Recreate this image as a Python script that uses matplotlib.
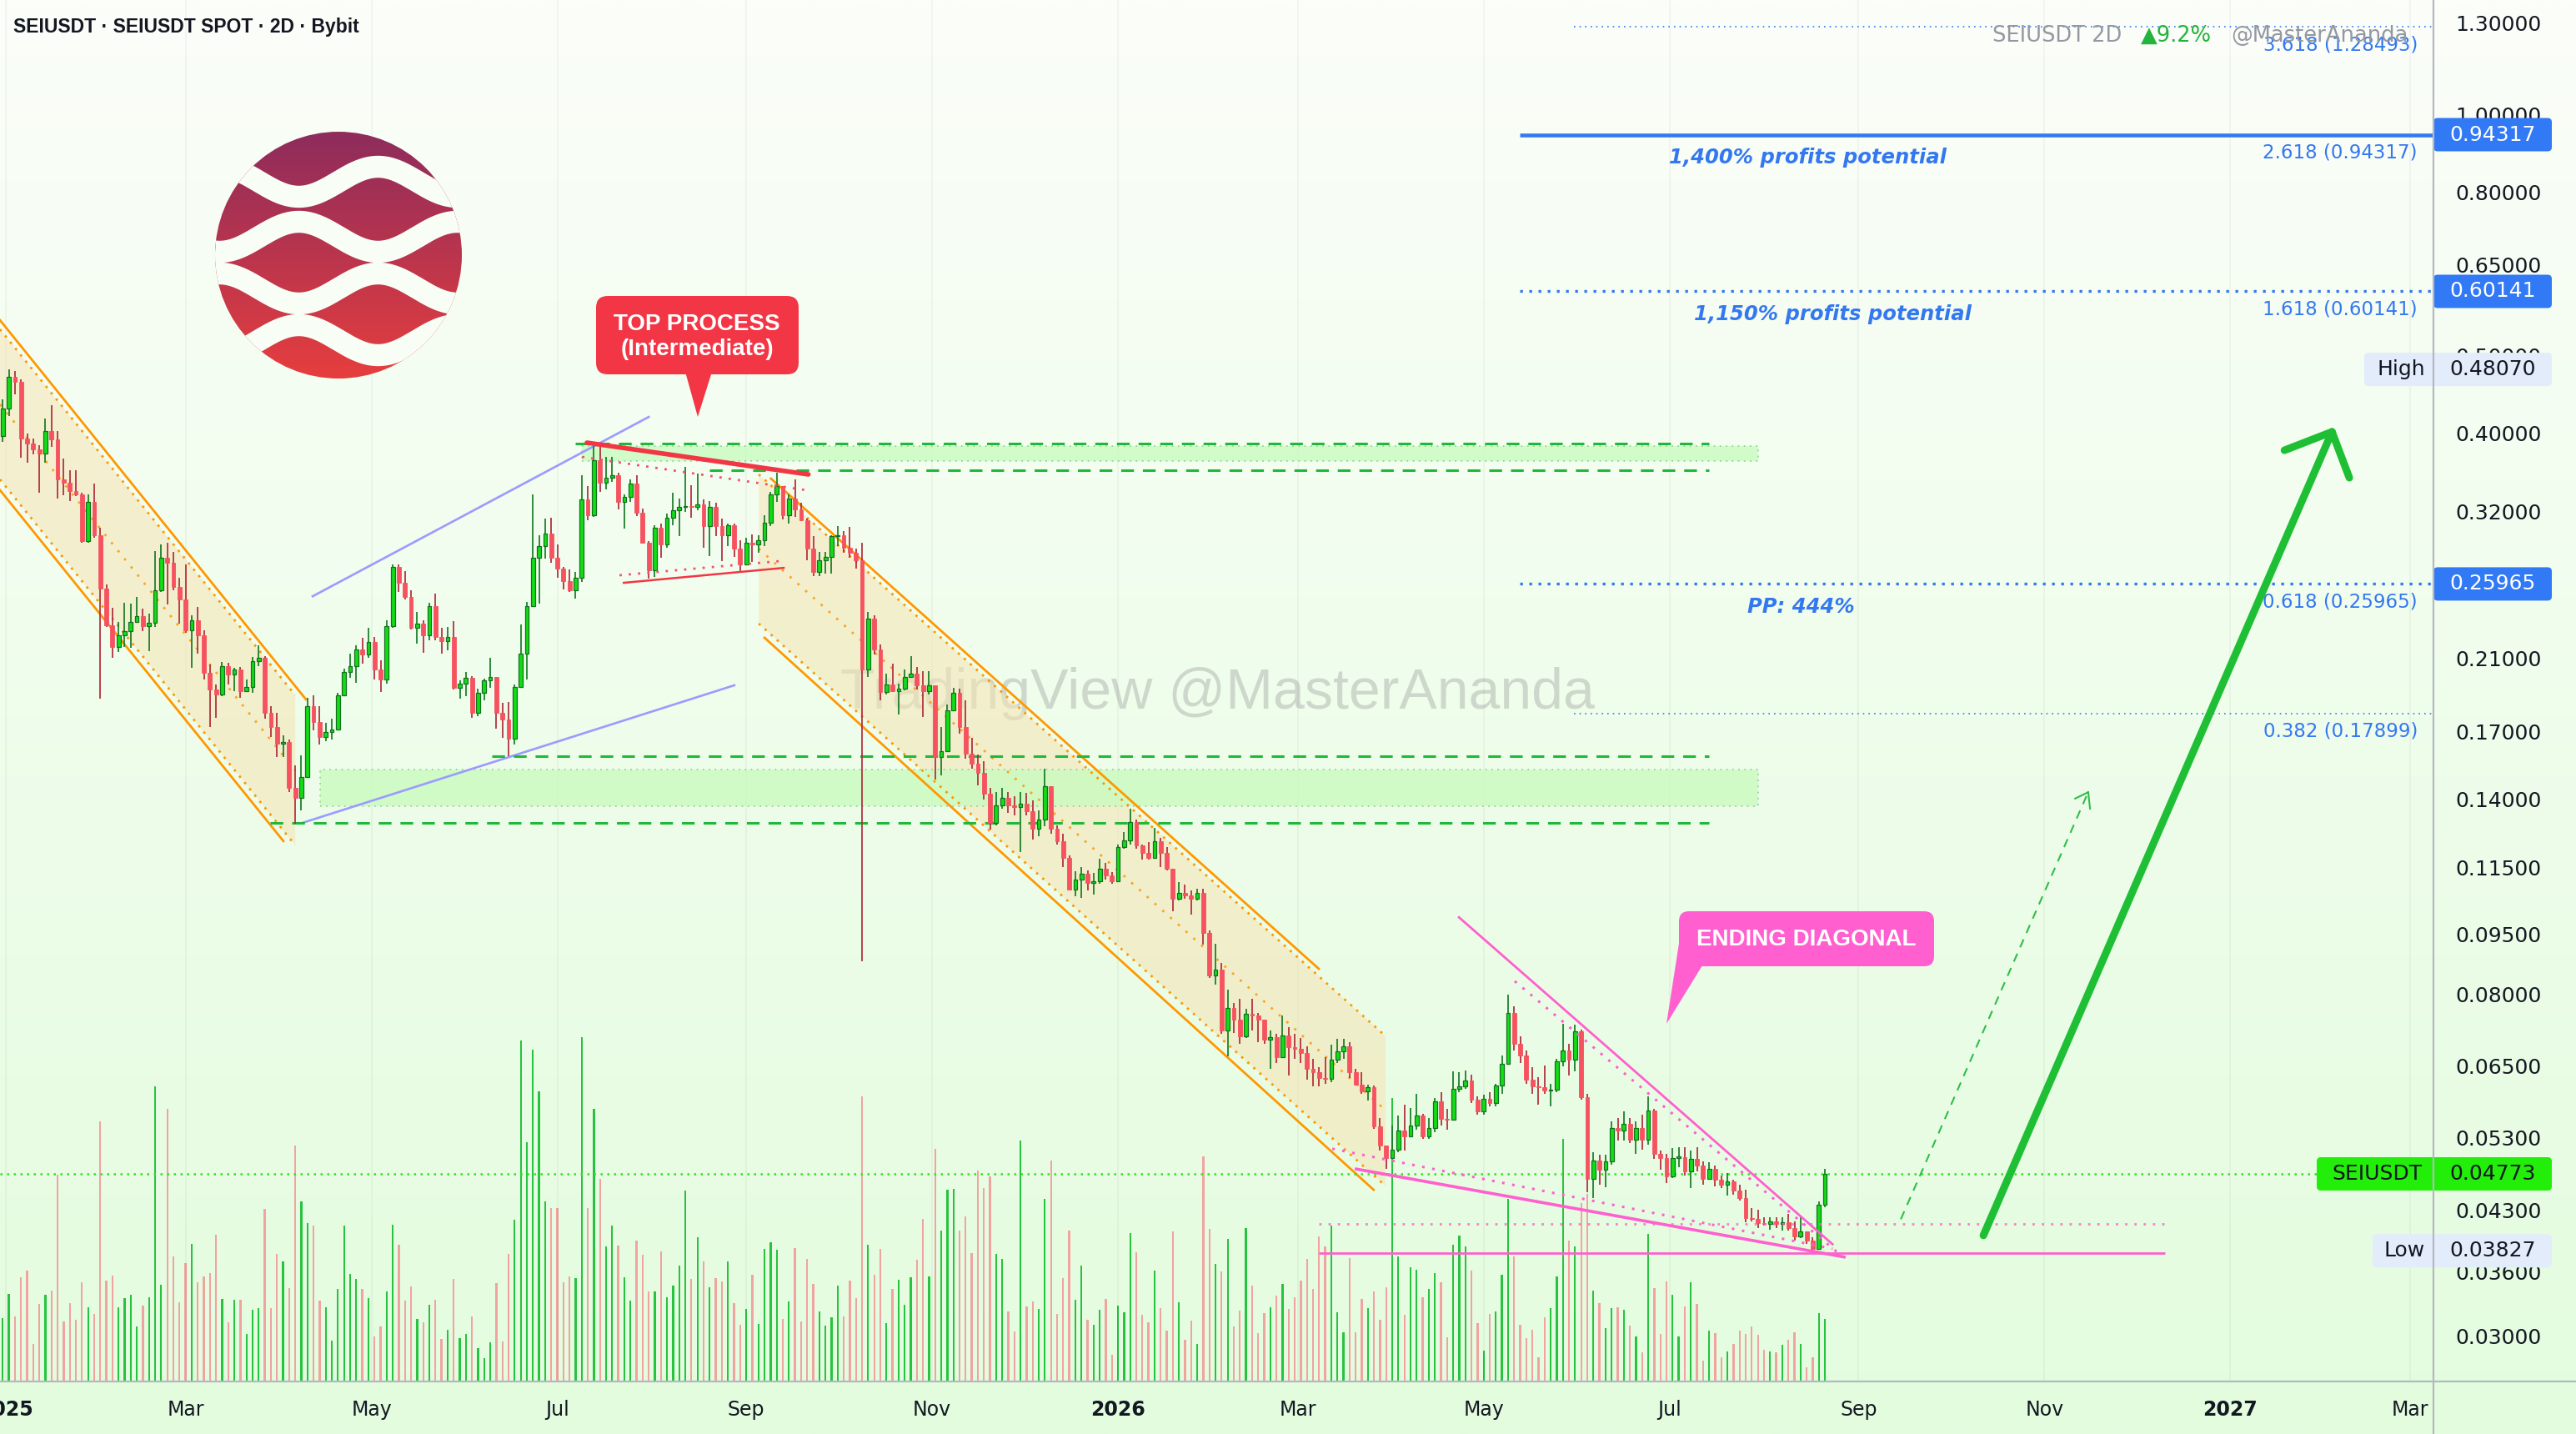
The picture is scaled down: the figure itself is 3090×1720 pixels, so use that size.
import datetime as dt
import numpy as np
import matplotlib
matplotlib.use('Agg')
import matplotlib.pyplot as plt
import matplotlib.dates as mdates
import matplotlib.transforms as mtransforms
from matplotlib.patches import FancyBboxPatch, Polygon, Rectangle, Circle
from matplotlib.lines import Line2D
from matplotlib.ticker import NullLocator, NullFormatter

W, H = 3090, 1720
BASE = dt.datetime(2024, 12, 31)

# ---------------- data (2D candles, SEIUSDT) ----------------
first_open = 0.397
closes = [0.4296,0.4706,0.4638,0.3940,0.3885,0.3820,0.3775,0.4027,0.3930,0.3505,
0.3471,0.3390,0.3358,0.2937,0.3286,0.2987,0.2562,0.2306,0.2167,0.2240,
0.2267,0.2328,0.2368,0.2300,0.2323,0.2550,0.2800,0.2760,0.2574,0.2484,
0.2272,0.2340,0.2240,0.2011,0.1918,0.1891,0.2051,0.2002,0.2031,0.1909,
0.1932,0.2080,0.2100,0.1794,0.1722,0.1641,0.1649,0.1446,0.1404,0.1491,
0.1828,0.1747,0.1673,0.1697,0.1709,0.1886,0.2016,0.2051,0.2151,0.2120,
0.2198,0.2031,0.1973,0.2300,0.2727,0.2606,0.2502,0.2289,0.2317,0.2240,
0.2436,0.2229,0.2203,0.2229,0.1927,0.1950,0.1983,0.1794,0.1900,0.1968,
0.1987,0.1794,0.1759,0.1665,0.1932,0.2125,0.2436,0.2800,0.2895,0.3001,
0.2800,0.2714,0.2618,0.2550,0.2643,0.3310,0.3163,0.3703,0.3471,0.3522,
0.3547,0.3286,0.3334,0.3463,0.3186,0.2923,0.2701,0.3051,0.2909,0.3140,
0.3209,0.3240,0.3247,0.3240,0.3263,0.3066,0.3240,0.3066,0.2987,0.3073,
0.2874,0.2747,0.2923,0.2909,0.2944,0.3095,0.3358,0.3438,0.3163,0.3318,
0.3216,0.3118,0.2874,0.2688,0.2780,0.2806,0.2980,0.2987,0.2881,0.2840,
0.2780,0.2031,0.2351,0.2151,0.1904,0.1945,0.1909,0.1922,0.1987,0.2006,
0.1941,0.1909,0.1941,0.1580,0.1606,0.1806,0.1900,0.1722,0.1595,0.1550,
0.1510,0.1421,0.1307,0.1374,0.1404,0.1374,0.1368,0.1381,0.1351,0.1285,
0.1319,0.1452,0.1285,0.1240,0.1182,0.1079,0.1110,0.1130,0.1100,0.1107,
0.1145,0.1124,0.1107,0.1220,0.1243,0.1310,0.1226,0.1199,0.1182,0.1240,
0.1199,0.1145,0.1051,0.1069,0.1061,0.1051,0.1069,0.0953,0.0843,0.0857,
0.0721,0.0768,0.0744,0.0708,0.0755,0.0753,0.0743,0.0701,0.0706,0.0667,
0.0711,0.0686,0.0684,0.0675,0.0645,0.0639,0.0628,0.0627,0.0662,0.0678,
0.0688,0.0639,0.0616,0.0605,0.0612,0.0547,0.0518,0.0499,0.0512,0.0540,
0.0532,0.0549,0.0564,0.0532,0.0544,0.0588,0.0559,0.0557,0.0609,0.0613,
0.0624,0.0590,0.0571,0.0592,0.0585,0.0615,0.0654,0.0757,0.0693,0.0671,
0.0626,0.0613,0.0612,0.0606,0.0608,0.0659,0.0680,0.0662,0.0718,0.0595,
0.0471,0.0496,0.0483,0.0495,0.0544,0.0540,0.0551,0.0526,0.0544,0.0526,
0.0572,0.0505,0.0500,0.0474,0.0500,0.0501,0.0481,0.0498,0.0489,0.0471,
0.0484,0.0469,0.0463,0.0467,0.0455,0.0445,0.0420,0.0419,0.0414,0.0413,
0.0416,0.0413,0.0415,0.0409,0.0399,0.0405,0.0394,0.0385,0.0437,0.04773]

highs = [0.441,0.4807,0.4785,0.467,0.400,0.394,0.3867,0.4174,0.434,0.4027,
0.372,0.3598,0.360,0.3374,0.336,0.3463,0.305,0.259,0.2425,0.2328,
0.246,0.2455,0.2502,0.2419,0.2385,0.2853,0.2909,0.2923,0.2846,0.2643,
0.2747,0.2373,0.2431,0.2272,0.2060,0.1945,0.2075,0.207,0.2041,0.2046,
0.1973,0.2105,0.2177,0.211,0.1828,0.1794,0.1681,0.1661,0.1542,0.1587,
0.1872,0.1886,0.1828,0.1743,0.1763,0.190,0.2036,0.2125,0.2177,0.2224,
0.2289,0.2229,0.2085,0.234,0.2747,0.2747,0.2694,0.255,0.2396,0.234,
0.246,0.2526,0.2289,0.2295,0.2334,0.1968,0.2016,0.1992,0.1922,0.1978,
0.210,0.1987,0.1846,0.1850,0.1945,0.2311,0.2466,0.3358,0.2987,0.3133,
0.314,0.2909,0.2727,0.2707,0.2688,0.3547,0.3438,0.3857,0.3857,0.3739,
0.3739,0.3572,0.3358,0.3505,0.3547,0.3224,0.2937,0.3073,0.3088,0.3177,
0.3374,0.3318,0.3633,0.3447,0.3564,0.331,0.3294,0.3278,0.3133,0.3088,
0.3088,0.2944,0.2965,0.2994,0.2987,0.3163,0.3382,0.3572,0.3438,0.3358,
0.3505,0.3278,0.3133,0.298,0.2846,0.2846,0.2987,0.3066,0.3022,0.3058,
0.2874,0.2923,0.2396,0.2373,0.2182,0.2006,0.2065,0.195,0.2031,0.211,
0.2046,0.2021,0.2021,0.1936,0.1722,0.1837,0.1927,0.1922,0.1859,0.1669,
0.159,0.156,0.1445,0.1428,0.1445,0.1428,0.1411,0.1428,0.1425,0.1394,
0.1355,0.1528,0.1452,0.1298,0.1267,0.1191,0.1137,0.1151,0.114,0.1132,
0.1179,0.1165,0.1134,0.1228,0.1273,0.1361,0.1319,0.1228,0.1237,0.1288,
0.1252,0.122,0.1145,0.1102,0.1094,0.1077,0.1081,0.1081,0.096,0.0923,
0.0874,0.0811,0.078,0.079,0.0766,0.079,0.0757,0.0743,0.0721,0.0713,
0.0753,0.0727,0.0713,0.0705,0.0688,0.0664,0.0648,0.0667,0.0691,0.0703,
0.0703,0.0696,0.0646,0.0639,0.0616,0.0615,0.0561,0.0518,0.0548,0.0564,
0.0582,0.0577,0.060,0.0567,0.0561,0.0594,0.0603,0.0575,0.0641,0.0639,
0.0643,0.0635,0.0596,0.0599,0.0603,0.0618,0.0671,0.0799,0.0772,0.0709,
0.0680,0.0648,0.0630,0.0651,0.0618,0.0664,0.0735,0.0693,0.0732,0.0723,
0.0600,0.0508,0.0504,0.0504,0.0555,0.0561,0.0571,0.0561,0.0555,0.0566,
0.0597,0.0575,0.0510,0.0505,0.0514,0.0515,0.0515,0.0510,0.0515,0.0495,
0.0493,0.0489,0.0475,0.0478,0.0469,0.0463,0.0456,0.0433,0.0431,0.0421,
0.0421,0.0421,0.0421,0.0426,0.0416,0.0423,0.0404,0.0398,0.0441,0.0484]

lows = [0.390,0.4204,0.447,0.373,0.3675,0.3765,0.3374,0.3675,0.3848,0.3318,
0.335,0.3294,0.334,0.2923,0.2923,0.2965,0.1868,0.2295,0.210,0.2136,
0.2167,0.2162,0.2328,0.2267,0.214,0.2294,0.2538,0.2448,0.255,0.2317,
0.2256,0.2041,0.2125,0.1973,0.1722,0.1768,0.1882,0.1945,0.1909,0.1873,
0.1904,0.190,0.2051,0.1763,0.1673,0.158,0.158,0.1428,0.1304,0.1355,
0.1488,0.1705,0.1637,0.1653,0.1661,0.1705,0.1882,0.1983,0.1955,0.2065,
0.2100,0.1973,0.1904,0.195,0.2289,0.2538,0.2484,0.2280,0.2188,0.213,
0.2208,0.2208,0.2125,0.2146,0.1918,0.1868,0.1882,0.1768,0.1777,0.1859,
0.1927,0.1714,0.1669,0.1583,0.1637,0.1927,0.1973,0.2431,0.2455,0.2793,
0.276,0.2643,0.2556,0.2538,0.249,0.2612,0.3118,0.3148,0.3382,0.3406,
0.348,0.3216,0.3044,0.3286,0.3156,0.2916,0.2637,0.265,0.280,0.2881,
0.3073,0.298,0.3194,0.314,0.3209,0.2881,0.2813,0.298,0.2773,0.2895,
0.2806,0.2694,0.274,0.2766,0.284,0.2895,0.3066,0.3286,0.3125,0.3088,
0.3148,0.311,0.278,0.2656,0.2656,0.2675,0.2675,0.2895,0.284,0.280,
0.2714,0.0879,0.1987,0.212,0.1859,0.1891,0.1904,0.1785,0.1913,0.1983,
0.1918,0.1772,0.1891,0.148,0.1498,0.1602,0.1802,0.1689,0.1572,0.1528,
0.1456,0.1397,0.1282,0.1298,0.1361,0.1345,0.1335,0.1202,0.1335,0.1246,
0.1258,0.1294,0.1267,0.1228,0.1151,0.1077,0.1059,0.1054,0.1077,0.1064,
0.1097,0.111,0.1097,0.1102,0.1214,0.1228,0.1214,0.1176,0.1176,0.1179,
0.1151,0.114,0.1014,0.1046,0.1051,0.1004,0.1046,0.0921,0.0837,0.0821,
0.0713,0.0669,0.0716,0.0694,0.0705,0.0721,0.0696,0.0693,0.0645,0.0656,
0.0665,0.0633,0.0664,0.0656,0.0626,0.0613,0.0613,0.0618,0.0621,0.0656,
0.0664,0.0629,0.0615,0.0600,0.0589,0.0543,0.0510,0.0484,0.0498,0.0508,
0.051,0.053,0.0542,0.0528,0.0528,0.0538,0.0548,0.0542,0.0556,0.0603,
0.061,0.0585,0.0566,0.0566,0.0579,0.0579,0.0600,0.0653,0.0680,0.0656,
0.0618,0.0600,0.0582,0.0600,0.0580,0.0603,0.0650,0.0633,0.0641,0.0590,
0.0453,0.0445,0.0463,0.0459,0.0490,0.0525,0.0525,0.0521,0.0506,0.0512,
0.0519,0.0498,0.0483,0.0465,0.0472,0.0486,0.0475,0.0458,0.0481,0.0463,
0.0469,0.0461,0.0458,0.0449,0.0450,0.0442,0.0415,0.0416,0.0409,0.0411,
0.0407,0.0409,0.0406,0.0406,0.0394,0.0397,0.0390,0.03827,0.0384,0.0434]

volumes = [229,316,235,376,400,136,280,313,328,743,
217,283,223,358,268,244,937,364,382,268,
301,313,199,274,304,1063,349,982,451,286,
427,496,358,379,391,529,298,214,295,295,
172,259,265,622,265,460,433,337,850,649,
571,562,292,268,148,334,562,388,370,334,
301,163,199,325,565,493,292,343,226,214,
277,295,154,187,370,157,172,235,121,85,
142,355,145,460,583,1228,862,1195,1045,649,
625,625,358,379,373,1240,625,982,730,487,
562,490,376,292,508,457,325,325,469,304,
346,418,688,370,520,433,340,373,361,433,
283,205,262,385,208,478,502,475,226,289,
481,217,442,352,253,202,232,346,235,364,
301,1027,493,385,478,211,334,367,277,376,
439,586,379,836,544,691,694,544,595,463,
760,697,739,460,442,253,181,868,271,289,
262,658,796,244,373,544,295,418,223,205,
259,298,97,274,250,535,466,241,214,400,
265,184,541,286,151,220,136,809,550,424,
397,514,199,256,553,346,175,247,268,310,
352,262,304,364,442,334,523,487,562,250,
178,445,178,298,265,325,223,340,1021,451,
241,412,403,304,334,391,358,160,493,526,
487,400,211,112,244,253,385,658,451,205,
157,187,88,232,265,379,874,508,487,643,
676,328,283,193,265,268,259,202,163,106,
532,337,172,361,313,163,271,358,280,76,
184,175,88,109,136,184,172,199,169,115,
109,106,133,151,178,136,52,88,247,226]

price_ticks = [1.3, 1.0, 0.8, 0.65, 0.5, 0.4, 0.32, 0.26, 0.21, 0.17, 0.14,
               0.115, 0.095, 0.08, 0.065, 0.053, 0.043, 0.036, 0.03]
month_ticks = ['2025-01-01', '2025-03-01', '2025-05-01', '2025-07-01', '2025-09-01',
               '2025-11-01', '2026-01-01', '2026-03-01', '2026-05-01', '2026-07-01',
               '2026-09-01', '2026-11-01', '2027-01-01', '2027-03-01']
month_labels = ['2025', 'Mar', 'May', 'Jul', 'Sep', 'Nov', '2026', 'Mar', 'May',
                'Jul', 'Sep', 'Nov', '2027', 'Mar']

fib_levels = [3.618, 2.618, 1.618, 0.618, 0.382]
fib_prices = [1.28493, 0.94317, 0.60141, 0.25965, 0.17899]
last_price = 0.04773
high_price = 0.48070
low_price = 0.03827

# ---------------- helpers ----------------
def D(n):
    return mdates.date2num(BASE + dt.timedelta(days=n))

NARROW = ['Liberation Sans Narrow', 'Liberation Sans', 'DejaVu Sans']
BLUE = '#3478f0'
ORANGE = '#ff9800'
PINK = '#ff5fcf'
GREEN_D = '#1fb83a'
TEXT = '#131722'

fig = plt.figure(figsize=(W / 100, H / 100), dpi=100)

# background gradient
TOPC = np.array([251, 254, 249]) / 255
BOTC = np.array([227, 252, 222]) / 255
bg = fig.add_axes([0, 0, 1, 1], zorder=0)
tt = np.linspace(0, 1, 400)[:, None, None]
bg.imshow(TOPC * (1 - tt) + BOTC * tt, aspect='auto', extent=[0, 1, 0, 1],
          origin='upper', interpolation='bilinear')
bg.set_xlim(0, 1); bg.set_ylim(0, 1)
bg.set_axis_off()
bg.text(1460 / W, 1 - 832 / H, 'TradingView @MasterAnanda', ha='center', va='center',
        fontsize=49, color='#9a9a9a', alpha=0.38, family=['Liberation Sans', 'DejaVu Sans'],
        transform=bg.transAxes)

pos = [0, 63 / H, 2919 / W, 1657 / H]
axv = fig.add_axes(pos, zorder=1)
ax = fig.add_axes(pos, zorder=2)
axv.patch.set_visible(False)
ax.patch.set_visible(False)

XL = (D(-0.9), D(797.7))
ax.set_yscale('log')
ax.set_ylim(0.02630, 1.3883)
ax.set_xlim(XL)
ax.autoscale(False)
axv.set_xlim(XL)
axv.set_ylim(0, 4971)
axv.set_axis_off()

# ---------------- candles & volume ----------------
n = len(closes)
x = np.array([D(2 * i) for i in range(n)])
c = np.array(closes)
o = np.r_[first_open, c[:-1]]
hi = np.maximum(np.array(highs), np.maximum(o, c))
lo = np.minimum(np.array(lows), np.minimum(o, c))
up = c >= o
bl = np.minimum(o, c)
bh = np.maximum(np.maximum(o, c), bl * 1.003)

axv.bar(x, volumes, width=0.62, color=np.where(up, '#27c23f', '#f1a3a0'), linewidth=0, zorder=1)

ax.vlines(x[up], lo[up], hi[up], colors='#167a25', lw=1.25, zorder=5)
ax.vlines(x[~up], lo[~up], hi[~up], colors='#b02a3a', lw=1.25, zorder=5)
ax.bar(x[up], bh[up] - bl[up], bottom=bl[up], width=1.3, color='#12dc14',
       edgecolor='#137020', linewidth=0.9, zorder=6)
ax.bar(x[~up], bh[~up] - bl[~up], bottom=bl[~up], width=1.3, color='#f6525f',
       edgecolor='#f6525f', linewidth=0.6, zorder=6)

# ---------------- drawings ----------------
def seg(p1, p2, **kw):
    ax.plot([D(p1[0]), D(p2[0])], [p1[1], p2[1]], **kw)

def channel(top, bot, mid, us, ls):
    poly = [(D(top[0][0]), top[0][1]), (D(top[1][0]), top[1][1]),
            (D(bot[1][0]), bot[1][1]), (D(bot[0][0]), bot[0][1])]
    ax.add_patch(Polygon(poly, closed=True, fc='#f5e4b4', alpha=0.55, ec='none', zorder=1))
    for ln in (top, bot):
        seg(*ln, color=ORANGE, lw=2.0, ls=(0, (1, 2.5)), zorder=2)
    seg(*mid, color=ORANGE, lw=2.0, ls=(0, (1, 3.5)), zorder=2, alpha=0.85)
    seg(*us, color=ORANGE, lw=2.0, zorder=2)
    seg(*ls, color=ORANGE, lw=2.0, zorder=2)

channel(((-0.9, 0.5394), (96.0, 0.1886)), ((-0.9, 0.3505), (96.0, 0.1226)),
        ((-0.9, 0.4348), (96.0, 0.1520)),
        ((-0.9, 0.5537), (99.5, 0.1864)), ((-0.9, 0.3399), (92.1, 0.1241)))
channel(((248.1, 0.3556), (453.8, 0.0709)), ((248.1, 0.2317), (453.8, 0.0461)),
        ((248.1, 0.2873), (453.8, 0.0573)),
        ((252.1, 0.3514), (431.9, 0.0860)), ((250.0, 0.2225), (449.9, 0.0456)))

# broadening blue lines
seg((101.7, 0.2506), (212.0, 0.4194), color='#9b9bff', lw=1.9, zorder=3)
seg((97.9, 0.1306), (240.1, 0.1941), color='#9b9bff', lw=1.9, zorder=3)

# green support/resistance zones
for (x0, x1, p0, p1) in [(190, 576, 0.3695, 0.3858), (104.2, 576, 0.1372, 0.1524)]:
    ax.add_patch(Rectangle((D(x0), p0), D(x1) - D(x0), p1 - p0, fc='#c9fbbf', alpha=0.8,
                           ec='#86c98a', lw=1.3, ls=(0, (1, 3)), zorder=1))
for (x0, x1, p) in [(188, 560, 0.389), (232, 560, 0.3601), (160.5, 560, 0.1583), (87.7, 560, 0.1306)]:
    ax.hlines(p, D(x0), D(x1), color=GREEN_D, lw=2.2, ls=(0, (5, 3.5)), zorder=3)

# top process lines
seg((191.7, 0.3895), (264.4, 0.3556), color='#f23645', lw=4.0, solid_capstyle='round', zorder=7)
seg((203.8, 0.2605), (256.3, 0.2719), color='#f23645', lw=1.8, zorder=7)
seg((190.1, 0.3739), (263.9, 0.3398), color='#f25070', lw=2.0, ls=(0, (1, 3)), zorder=7)
seg((202.4, 0.2662), (255.2, 0.2773), color='#f25070', lw=2.0, ls=(0, (1, 3)), zorder=7)

# ending diagonal
seg((477.9, 0.0997), (600.5, 0.0390), color=PINK, lw=2.0, zorder=7)
seg((496.2, 0.0830), (602.1, 0.0381), color=PINK, lw=2.2, ls=(0, (1, 3)), zorder=7)
seg((444.2, 0.0484), (604.3, 0.0376), color=PINK, lw=2.6, zorder=7)
seg((436.3, 0.0513), (600.5, 0.0385), color=PINK, lw=2.2, ls=(0, (1, 3)), zorder=7)
ax.hlines(0.0380, D(431.9), D(709.6), color=PINK, lw=2.0, zorder=7)
ax.hlines(0.0413, D(431.9), D(709.6), color=PINK, lw=2.0, ls=(0, (1, 3)), alpha=0.8, zorder=7)

# current price line
ax.axhline(last_price, color='#2ee51c', lw=1.8, ls=(0, (1, 2.2)), zorder=4)

# projection arrows
seg((650.0, 0.0400), (764.4, 0.4018), color='#1fbf35', lw=6.5, solid_capstyle='round', zorder=8)
seg((748.8, 0.3811), (764.4, 0.4018), color='#1fbf35', lw=6.5, solid_capstyle='round', zorder=8)
seg((764.4, 0.4018), (770.1, 0.3522), color='#1fbf35', lw=6.5, solid_capstyle='round', zorder=8)
seg((622.9, 0.0419), (684.4, 0.1428), color='#2fbd4a', lw=1.5, ls=(0, (5, 4)), zorder=8)
seg((680.1, 0.1402), (684.4, 0.1428), color='#2fbd4a', lw=1.5, zorder=8)
seg((684.4, 0.1428), (685.0, 0.1362), color='#2fbd4a', lw=1.5, zorder=8)

# fibonacci extension levels
fib_start = [515.6, 497.9, 497.9, 497.9, 515.6]
fib_style = [dict(lw=1.2, ls=(0, (1, 3))), dict(lw=3.3, ls='-'),
             dict(lw=2.4, ls=(0, (1, 2.3))), dict(lw=2.4, ls=(0, (1, 2.3))),
             dict(lw=1.2, ls=(0, (1, 3)))]
for lvl, p, s0, st in zip(fib_levels, fib_prices, fib_start, fib_style):
    ax.hlines(p, D(s0), XL[1], color=BLUE, zorder=4, **st)
    ax.annotate(f'{lvl:.3f} ({p:.5f})', xy=(D(792.5), p), xytext=(0, -7),
                textcoords='offset points', ha='right', va='top', fontsize=16.5,
                color=BLUE, zorder=9)
for txt, xd, p in [('1,400% profits potential', 592.3, 0.94317),
                   ('1,150% profits potential', 600.5, 0.60141),
                   ('PP: 444%', 590.1, 0.25965)]:
    ax.annotate(txt, xy=(D(xd), p), xytext=(0, -20), textcoords='offset points',
                ha='center', va='center', fontsize=17.5, fontweight='bold',
                fontstyle='italic', color=BLUE, zorder=9)

# ---------------- axes, ticks ----------------
for s in ax.spines.values():
    s.set_visible(False)
ax.yaxis.tick_right()
ax.set_yticks(price_ticks, labels=[f'{p:.5f}' for p in price_ticks])
ax.yaxis.set_minor_locator(NullLocator())
ax.yaxis.set_minor_formatter(NullFormatter())
ax.tick_params(axis='y', which='both', length=0, pad=19, labelsize=18, labelcolor=TEXT)
ax.set_xticks([mdates.datestr2num(m) for m in month_ticks], labels=month_labels)
ax.tick_params(axis='x', length=0, pad=16, labelsize=17, labelcolor=TEXT)
for lab in ax.get_xticklabels():
    if lab.get_text().isdigit():
        lab.set_fontweight('bold')
ax.grid(axis='x', color='k', alpha=0.045, lw=1.2)
ax.set_axisbelow(True)

# cover the part of time labels under the price scale
bot_row = TOPC * (1 - 0.982) + BOTC * 0.982
fig.add_artist(Rectangle((2921 / W, 0), (W - 2921) / W, 62 / H, transform=fig.transFigure,
                         fc=bot_row, ec='none', zorder=25))

# ---------------- labels on the price scale ----------------
IDT = mtransforms.IdentityTransform()

def ypix(p):
    return ax.transData.transform((XL[0], p))[1]

def axis_box(p, x0, x1, fc, items, tc):
    yc = ypix(p)
    fig.add_artist(FancyBboxPatch((x0, yc - 20), x1 - x0, 40,
                                  boxstyle='round,pad=0,rounding_size=5', transform=IDT,
                                  fc=fc, ec='none', zorder=26))
    for tx, s in items:
        fig.text(tx / W, yc / H, s, ha='left', va='center', fontsize=18, color=tc, zorder=27)

for p in fib_prices[1:4]:
    axis_box(p, 2919, 3061, '#3179f5', [(2938, f'{p:.5f}')], 'white')
axis_box(high_price, 2836, 3061, '#e3ecfb', [(2851, 'High'), (2938, f'{high_price:.5f}')], TEXT)
axis_box(last_price, 2779, 3061, '#22ee0a', [(2797, 'SEIUSDT'), (2938, f'{last_price:.5f}')], TEXT)
axis_box(low_price, 2846, 3061, '#e3ecfb', [(2859, 'Low'), (2938, f'{low_price:.5f}')], TEXT)

# separators
fig.add_artist(Line2D([2919 / W, 2919 / W], [0, 1], transform=fig.transFigure,
                      color='#b4b8c0', lw=1.6, zorder=30))
fig.add_artist(Line2D([0, 1], [63 / H, 63 / H], transform=fig.transFigure,
                      color='#b4b8c0', lw=1.6, zorder=30))

# ---------------- callouts ----------------
fig.add_artist(FancyBboxPatch((715, H - 449), 243, 94, boxstyle='round,pad=0,rounding_size=14',
                              transform=IDT, fc='#f23645', ec='none', zorder=26))
fig.add_artist(Polygon([(822, H - 446), (854, H - 446), (837, H - 500)], closed=True,
                       transform=IDT, fc='#f23645', ec='none', zorder=26))
fig.text(836 / W, 1 - 389 / H, 'TOP PROCESS', ha='center', va='center', fontsize=20,
         fontweight='bold', color='white', family=NARROW, zorder=27)
fig.text(836 / W, 1 - 419 / H, '(Intermediate)', ha='center', va='center', fontsize=20,
         fontweight='bold', color='white', family=NARROW, zorder=27)

fig.add_artist(FancyBboxPatch((2014, H - 1159), 306, 66, boxstyle='round,pad=0,rounding_size=12',
                              transform=IDT, fc=PINK, ec='none', zorder=26))
fig.add_artist(Polygon([(2015, H - 1125), (2042, H - 1158), (1999, H - 1228)], closed=True,
                       transform=IDT, fc=PINK, ec='none', zorder=26))
fig.text(2167 / W, 1 - 1127 / H, 'ENDING DIAGONAL', ha='center', va='center', fontsize=20,
         fontweight='bold', color='white', family=NARROW, zorder=27)

# ---------------- header texts ----------------
fig.text(16 / W, 1 - 32 / H, 'SEIUSDT · SEIUSDT SPOT · 2D · Bybit', ha='left', va='center',
         fontsize=16.5, fontweight='bold', color=TEXT, family=NARROW, zorder=27)
fig.text(2390 / W, 1 - 43 / H, 'SEIUSDT 2D', ha='left', va='center', fontsize=18.5,
         color='#9598a1', zorder=27)
fig.text(2568 / W, 1 - 43 / H, '▲9.2%', ha='left', va='center', fontsize=18.5,
         color='#22b43c', zorder=27)
fig.text(2676 / W, 1 - 43 / H, '@MasterAnanda', ha='left', va='center', fontsize=18.5,
         color='#9598a1', zorder=27)

# ---------------- logo ----------------
cx, cy, r = 406, 306, 148
lax = fig.add_axes([(cx - r - 2) / W, 1 - (cy + r + 2) / H, (2 * r + 4) / W, (2 * r + 4) / H], zorder=3)
lax.set_xlim(-r - 2, r + 2)
lax.set_ylim(-r - 2, r + 2)
lax.set_axis_off()
g = np.linspace(0, 1, 300)[:, None, None]
ctop = np.array([0x8e, 0x2c, 0x5c]) / 255
cbot = np.array([0xe6, 0x3e, 0x3e]) / 255
im = lax.imshow(ctop * (1 - g) + cbot * g, extent=[-r, r, -r, r], origin='upper', aspect='auto')
circ = Circle((0, 0), r, transform=lax.transData)
im.set_clip_path(circ)
xs = np.linspace(-r, r, 400)
for y0, ph in [(88, 0.0), (22, np.pi), (-40, 0.0), (-102, np.pi)]:
    ln, = lax.plot(xs, y0 + 18 * np.sin(2 * np.pi * xs / 190 + ph), color='#f8fdf6',
                   lw=19, solid_capstyle='butt')
    ln.set_clip_path(circ)

fig.savefig('out.png', dpi=100)
